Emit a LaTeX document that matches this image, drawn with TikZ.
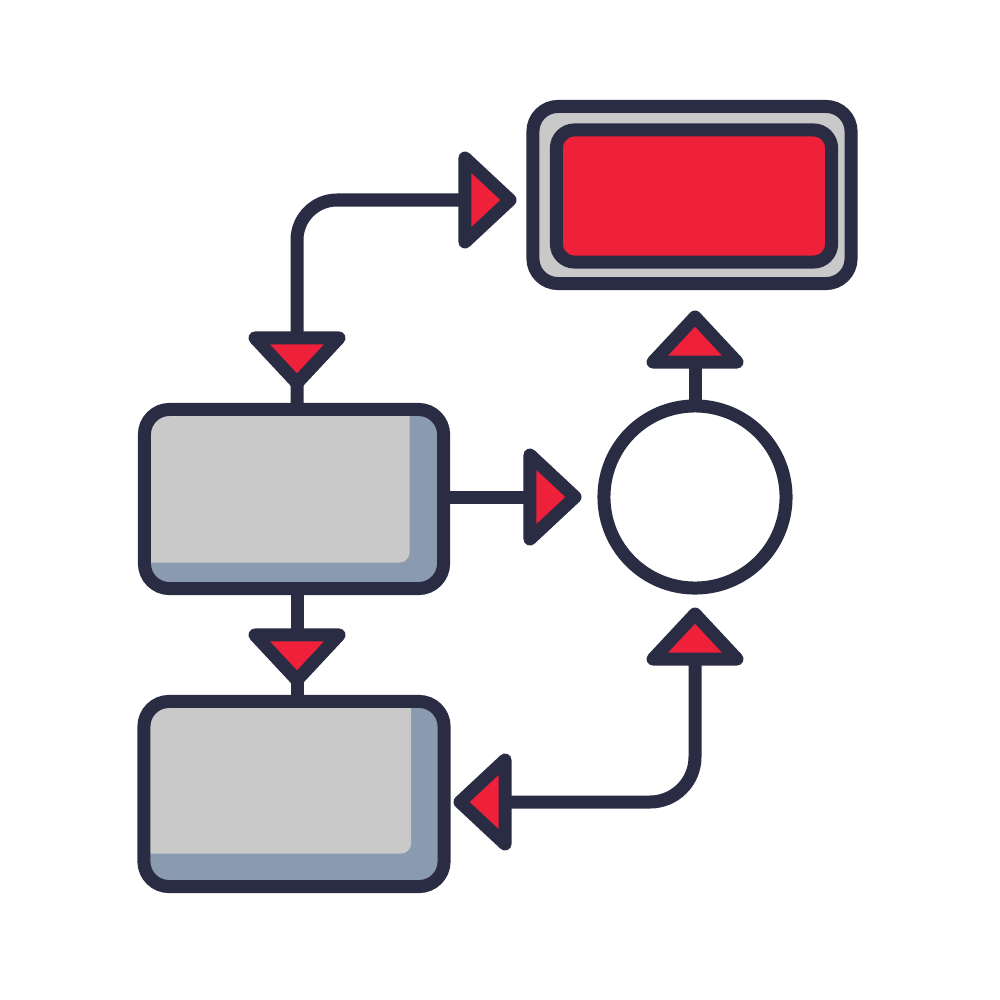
\documentclass[tikz,border=0pt]{standalone}
\usetikzlibrary{shapes.geometric,backgrounds}
\definecolor{ink}{RGB}{41,44,66}
\definecolor{flagred}{RGB}{238,32,58}
\definecolor{boxgray}{RGB}{201,201,201}
\definecolor{shade}{RGB}{138,154,177}
\tikzset{
  every node/.style={outer sep=0pt, inner sep=0pt},
  link/.style={draw=ink, line width=0.13cm, line cap=round},
  block/.style={rectangle, draw=ink, line width=0.13cm, rounded corners=0.25cm},
  shaded block/.style 2 args={block, fill=shade,
    path picture={\fill[boxgray, rounded corners=0.1cm]
      ([xshift=-0.2cm, yshift=0.2cm]path picture bounding box.north west) rectangle
      ([xshift=-#1, yshift=#2]path picture bounding box.south east);}},
  tri/.style={isosceles triangle, isosceles triangle stretches,
    minimum width=0.84cm, minimum height=0.45cm, draw=ink, fill=flagred,
    line width=0.13cm, line join=round, anchor=apex},
}
\begin{document}
\begin{tikzpicture}[x=0.01cm, y=-0.01cm]
  \useasboundingbox (0,0) rectangle (1000,1000);
  % boxes
  \node[block, fill=boxgray, minimum width=3.18cm, minimum height=1.77cm] (goal) at (692,195) {};
  \node[block, fill=flagred, rounded corners=0.18cm, minimum width=2.75cm, minimum height=1.32cm] (goalin) at (694,196) {};
  \node[shaded block={0.34cm}{0.26cm}, minimum width=2.99cm, minimum height=1.79cm] (step1) at (294,499) {};
  \node[shaded block={0.33cm}{0.33cm}, minimum width=3.0cm, minimum height=1.85cm] (step2) at (294,794) {};
  \node[circle, draw=ink, line width=0.13cm, fill=white, minimum size=1.82cm] (merge) at (695,497) {};
  % arrow heads
  \node[tri] (toGoal) at (510,200) {};
  \node[tri, rotate=-90] (toStep1) at (297,383) {};
  \node[tri] (toMerge) at (575,497) {};
  \node[tri, rotate=-90] (toStep2) at (297,680) {};
  \node[tri, rotate=90] (fromMerge) at (695,317) {};
  \node[tri, rotate=90] (backMerge) at (695,614) {};
  \node[tri, rotate=180] (backStep2) at (460,802) {};
  % connectors
  \begin{pgfonlayer}{background}
    \fill[white] (0,0) rectangle (1000,1000);
    \draw[link, rounded corners=0.4cm] (toStep1.apex |- step1.north) |- (toGoal);
    \draw[link] (step1.east |- toMerge) -- (toMerge);
    \draw[link] (toStep2.apex |- step1.south) -- (toStep2.apex |- step2.north);
    \draw[link] (merge) -- (fromMerge);
    \draw[link, rounded corners=0.45cm] (backMerge) |- (backStep2);
  \end{pgfonlayer}
\end{tikzpicture}
\end{document}
